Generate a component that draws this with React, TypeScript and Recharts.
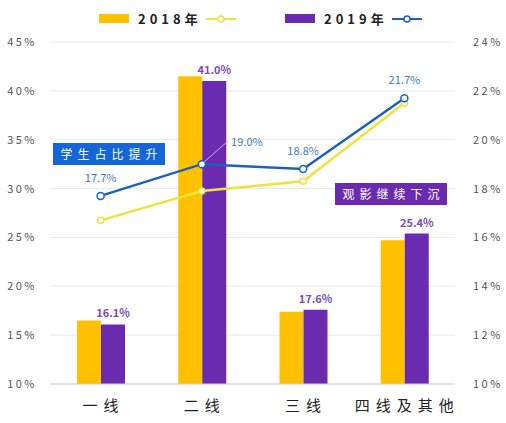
import React from 'react';
import { ComposedChart, Bar, Line, XAxis, YAxis, CartesianGrid, LabelList } from 'recharts';

const categories = ['一线', '二线', '三线', '四线及其他'];
const bar2018 = [16.5, 41.5, 17.4, 24.7];
const bar2019 = [16.1, 41.0, 17.6, 25.4];
const line2018 = [16.7, 17.9, 18.3, 21.5];
const line2019 = [17.7, 19.0, 18.8, 21.7];
const leftTicks = [10, 15, 20, 25, 30, 35, 40, 45];
const rightTicks = [10, 12, 14, 16, 18, 20, 22, 24];

const data = categories.map((c, i) => ({
  name: c,
  b2018: bar2018[i],
  b2019: bar2019[i],
  l2018: line2018[i],
  l2019: line2019[i],
}));

const FONT = '"Noto Sans CJK SC", "Noto Sans", sans-serif';
const YELLOW = '#FFC000';
const PURPLE = '#6A2BB0';
const BLUE = '#1F5FBF';
const LYELLOW = '#EEE23E';
const LABELBLUE = '#3F7CC0';

const LeftTick = (props: any) => {
  const { x, y, payload } = props;
  return (
    <text x={x - 5} y={y} dy={4} textAnchor="end" fontSize={11} fill="#555" fontFamily={FONT} letterSpacing={2.5}>
      {payload.value + '%'}
    </text>
  );
};

const RightTick = (props: any) => {
  const { x, y, payload } = props;
  return (
    <text x={x + 10} y={y} dy={4} textAnchor="start" fontSize={11} fill="#555" fontFamily={FONT} letterSpacing={2.5}>
      {payload.value + '%'}
    </text>
  );
};

const XTick = (props: any) => {
  const { x, y, payload } = props;
  return (
    <text x={x + 3} y={y} dy={19} textAnchor="middle" fontSize={15} fill="#222" fontFamily={FONT} letterSpacing={6}>
      {payload.value}
    </text>
  );
};

const Line2019Label = (props: any) => {
  const { x, y, value, index } = props;
  const txt = value.toFixed(1) + '%';
  if (index === 1) {
    return (
      <g>
        <line x1={x + 2} y1={y - 2} x2={x + 26} y2={y - 23} stroke="#c9b0e0" strokeWidth={1} />
        <text x={x + 45} y={y - 18} textAnchor="middle" fontSize={11} fill={LABELBLUE} fontFamily={FONT}>
          {txt}
        </text>
      </g>
    );
  }
  return (
    <text x={x} y={y - 14} textAnchor="middle" fontSize={11} fill={LABELBLUE} fontFamily={FONT}>
      {txt}
    </text>
  );
};

const LegendItem = ({ color, lineColor, label, left }: any) => (
  <div style={{ position: 'absolute', left, top: 11, display: 'flex', alignItems: 'center', height: 15 }}>
    <div style={{ width: 30, height: 9, background: color }} />
    <span style={{ marginLeft: 9, fontSize: 13, fontWeight: 700, letterSpacing: 4, color: '#222', fontFamily: FONT, lineHeight: '15px', whiteSpace: 'nowrap' }}>
      {label}
    </span>
    <svg width={30} height={10} style={{ marginLeft: 4 }}>
      <line x1={0} y1={5} x2={30} y2={5} stroke={lineColor} strokeWidth={2} />
      <circle cx={15} cy={5} r={3} fill="#fff" stroke={lineColor} strokeWidth={1.5} />
    </svg>
  </div>
);

const boxStyle = (left: number, top: number, bg: string): React.CSSProperties => ({
  position: 'absolute', left, top, width: 112, height: 22, background: bg, color: '#fff',
  fontSize: 12, letterSpacing: 5, lineHeight: '22px', textAlign: 'center', fontFamily: FONT,
  whiteSpace: 'nowrap', textIndent: 5, overflow: 'hidden',
});

export default function App() {
  return (
    <div style={{ position: 'absolute', left: 0, top: 0, width: 506, height: 423, background: '#fff', fontFamily: FONT }}>
      <ComposedChart width={506} height={423} data={data} margin={{ top: 42, right: 0, left: 0, bottom: 0 }} barGap={0}>
        <CartesianGrid horizontal vertical={false} stroke="#e8e8e8" yAxisId="left" />
        <XAxis dataKey="name" height={39} tickLine={false} axisLine={{ stroke: '#cfcfcf' }} tick={<XTick />} interval={0} />
        <YAxis yAxisId="left" width={50} domain={[10, 45]} ticks={leftTicks} axisLine={false} tickLine={false} tick={<LeftTick />} allowDataOverflow />
        <YAxis yAxisId="right" orientation="right" width={51} domain={[10, 24]} ticks={rightTicks} axisLine={false} tickLine={false} tick={<RightTick />} allowDataOverflow />
        <Bar yAxisId="left" dataKey="b2018" fill={YELLOW} barSize={24} isAnimationActive={false} />
        <Bar yAxisId="left" dataKey="b2019" fill={PURPLE} barSize={24} isAnimationActive={false}>
          <LabelList dataKey="b2019" position="top" offset={7} fontSize={11} fontWeight={700} fill="#7B4BC0" fontFamily={FONT} formatter={(v: any) => Number(v).toFixed(1) + '%'} />
        </Bar>
        <Line yAxisId="right" dataKey="l2018" stroke={LYELLOW} strokeWidth={2.5} dot={{ r: 3, fill: '#fff', stroke: LYELLOW, strokeWidth: 1.5 }} isAnimationActive={false} />
        <Line yAxisId="right" dataKey="l2019" stroke={BLUE} strokeWidth={2.5} dot={{ r: 3.5, fill: '#fff', stroke: BLUE, strokeWidth: 1.5 }} isAnimationActive={false}>
          <LabelList dataKey="l2019" content={<Line2019Label />} />
        </Line>
      </ComposedChart>
      <LegendItem color={YELLOW} lineColor={LYELLOW} label="2018年" left={99} />
      <LegendItem color={PURPLE} lineColor={BLUE} label="2019年" left={285} />
      <div style={boxStyle(53, 143, '#1466D8')}>学生占比提升</div>
      <div style={boxStyle(335, 183, '#6A2BB0')}>观影继续下沉</div>
    </div>
  );
}
